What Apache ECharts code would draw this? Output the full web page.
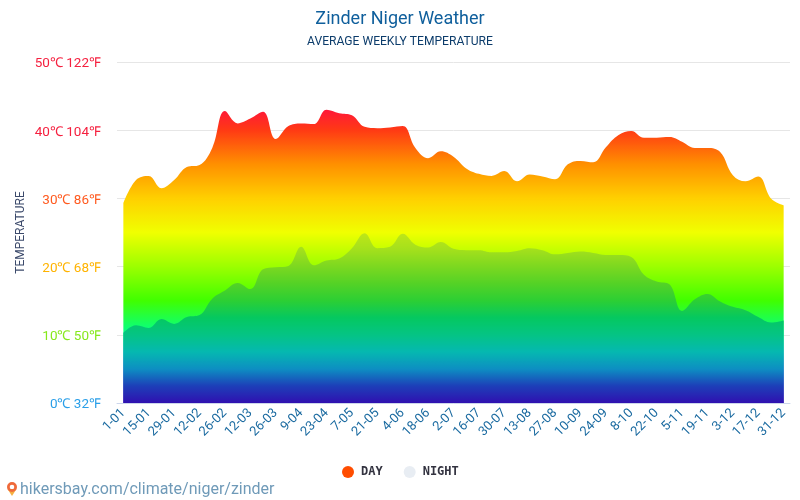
<!DOCTYPE html>
<html>
<head>
<meta charset="utf-8">
<title>Zinder Niger Weather</title>
<script src="https://cdn.jsdelivr.net/npm/echarts@6/dist/echarts.min.js"></script>
<style>
  html, body { margin: 0; padding: 0; background: #fff; }
  #chart { width: 800px; height: 500px; }
</style>
</head>
<body>
<div id="chart"></div>
<script>
var weeks = ['1-01','8-01','15-01','22-01','29-01','5-02','12-02','19-02','26-02','5-03','12-03','19-03','26-03','2-04','9-04','16-04','23-04','30-04','7-05','14-05','21-05','28-05','4-06','11-06','18-06','25-06','2-07','9-07','16-07','23-07','30-07','6-08','13-08','20-08','27-08','3-09','10-09','17-09','24-09','1-10','8-10','15-10','22-10','29-10','5-11','12-11','19-11','26-11','3-12','10-12','17-12','24-12','31-12'];
var dayTemps = [29.3,32.7,33.3,31.5,32.7,34.6,34.9,37.4,42.8,41.0,41.7,42.7,38.7,40.6,41.0,40.9,43.0,42.5,42.2,40.5,40.3,40.4,40.6,37.4,35.9,36.9,36.1,34.4,33.6,33.3,34.0,32.5,33.5,33.2,32.8,35.0,35.5,35.3,37.5,39.3,39.9,38.9,38.9,39.0,38.3,37.4,37.4,36.8,33.4,32.5,33.2,30.0,29.0];
var nightTemps = [10.3,11.4,11.0,12.3,11.6,12.6,12.9,15.3,16.5,17.6,16.7,19.6,19.9,20.1,22.9,20.2,20.9,21.2,22.7,24.9,22.7,22.9,24.8,23.2,22.8,23.6,22.6,22.4,22.4,22.1,22.1,22.3,22.7,22.4,21.8,22.0,22.2,22.0,21.7,21.7,21.4,18.8,17.8,17.4,13.5,15.2,16.0,14.9,14.1,13.6,12.6,11.8,12.1];
var fahrenheit = { 0: 32, 10: 50, 20: 68, 30: 86, 40: 104, 50: 122 };
var tickColors = { 0: '#2a9fe8', 10: '#86e81c', 20: '#ffb300', 30: '#ff5a1f', 40: '#f5203f', 50: '#f5203f' };

var chart = echarts.init(document.getElementById('chart'));
chart.setOption({
  animation: false,
  textStyle: { fontFamily: 'Roboto' },
  title: [
    { text: 'Zinder Niger Weather', left: 'center', top: 5, textStyle: { color: '#0f5f9c', fontSize: 18, fontWeight: 'normal' } },
    { text: 'AVERAGE WEEKLY TEMPERATURE', left: 'center', top: 31, textStyle: { color: '#0c3c6b', fontSize: 12.1, fontWeight: 'normal' } }
  ],
  grid: { left: 117, right: 10, top: 62, bottom: 97 },
  legend: {
    left: 337, top: 461, icon: 'circle', itemWidth: 12, itemHeight: 12, itemGap: 21,
    textStyle: { fontFamily: 'DejaVu Sans Mono', fontWeight: 'bold', fontSize: 12, color: '#333340', padding: [0, 0, 0, 2] },
    data: [
      { name: 'DAY', itemStyle: { color: '#ff4d00' } },
      { name: 'NIGHT', itemStyle: { color: '#e8edf3' } }
    ]
  },
  visualMap: [
    {
      show: false, type: 'continuous', seriesIndex: 0, min: 0, max: 50,
      inRange: { color: ['#3010b0','#1060d0','#00ff90','#40ff00','#9cff00','#f0ff00','#ffd000','#ff9000','#ff3a14','#ff0050','#ff0050'] }
    },
    {
      show: false, type: 'continuous', seriesIndex: 1, min: 0, max: 25,
      inRange: { color: ['#3010b0','#1d3fb8','#0d8fc2','#05b8b0','#05c484','#05c860','#2ccf34','#54d226','#7cd820','#a4e01c','#c0e618'] }
    }
  ],
  xAxis: {
    type: 'category', data: weeks, boundaryGap: true,
    axisLine: { lineStyle: { color: '#ccd6eb' } },
    axisTick: { alignWithLabel: true, interval: 1, length: 10, lineStyle: { color: '#ccd6eb' } },
    axisLabel: { interval: 1, rotate: 45, color: '#1a6aa0', fontSize: 13, margin: 8 },
    splitLine: { show: false }
  },
  yAxis: {
    type: 'value', min: 0, max: 50, interval: 10,
    name: 'TEMPERATURE', nameLocation: 'middle', nameGap: 90, nameMoveOverlap: false,
    nameTextStyle: { color: '#3c4a6b', fontSize: 12 },
    axisLine: { show: false }, axisTick: { show: false },
    axisLabel: {
      margin: 16, fontSize: 13.5, verticalAlign: 'top', lineHeight: 4,
      color: function (v) { return tickColors[v]; },
      formatter: function (v) { return v + '℃ ' + fahrenheit[v] + '℉'; }
    },
    splitLine: { lineStyle: { color: '#e6e6e6' } }
  },
  series: [
    {
      name: 'DAY', type: 'line', data: dayTemps, smooth: 0.4, symbol: 'none',
      lineStyle: { width: 0 }, areaStyle: { opacity: 1 }
    },
    {
      name: 'NIGHT', type: 'line', data: nightTemps, smooth: 0.4, symbol: 'none',
      lineStyle: { width: 0 }, areaStyle: { opacity: 1 }
    }
  ],
  graphic: [
    { type: 'text', left: 20, top: 482, style: { text: 'hikersbay.com/climate/niger/zinder', fontFamily: 'Roboto', fontSize: 16, fill: '#6f9ab8' } },
    { type: 'polygon', shape: { points: [[7.5, 489], [16.5, 489], [12, 496]] }, style: { fill: '#f5b041' } },
    { type: 'ring', shape: { cx: 12, cy: 487, r: 5, r0: 2.3 }, style: { fill: '#ef6a3a' } }
  ]
});
</script>
</body>
</html>
